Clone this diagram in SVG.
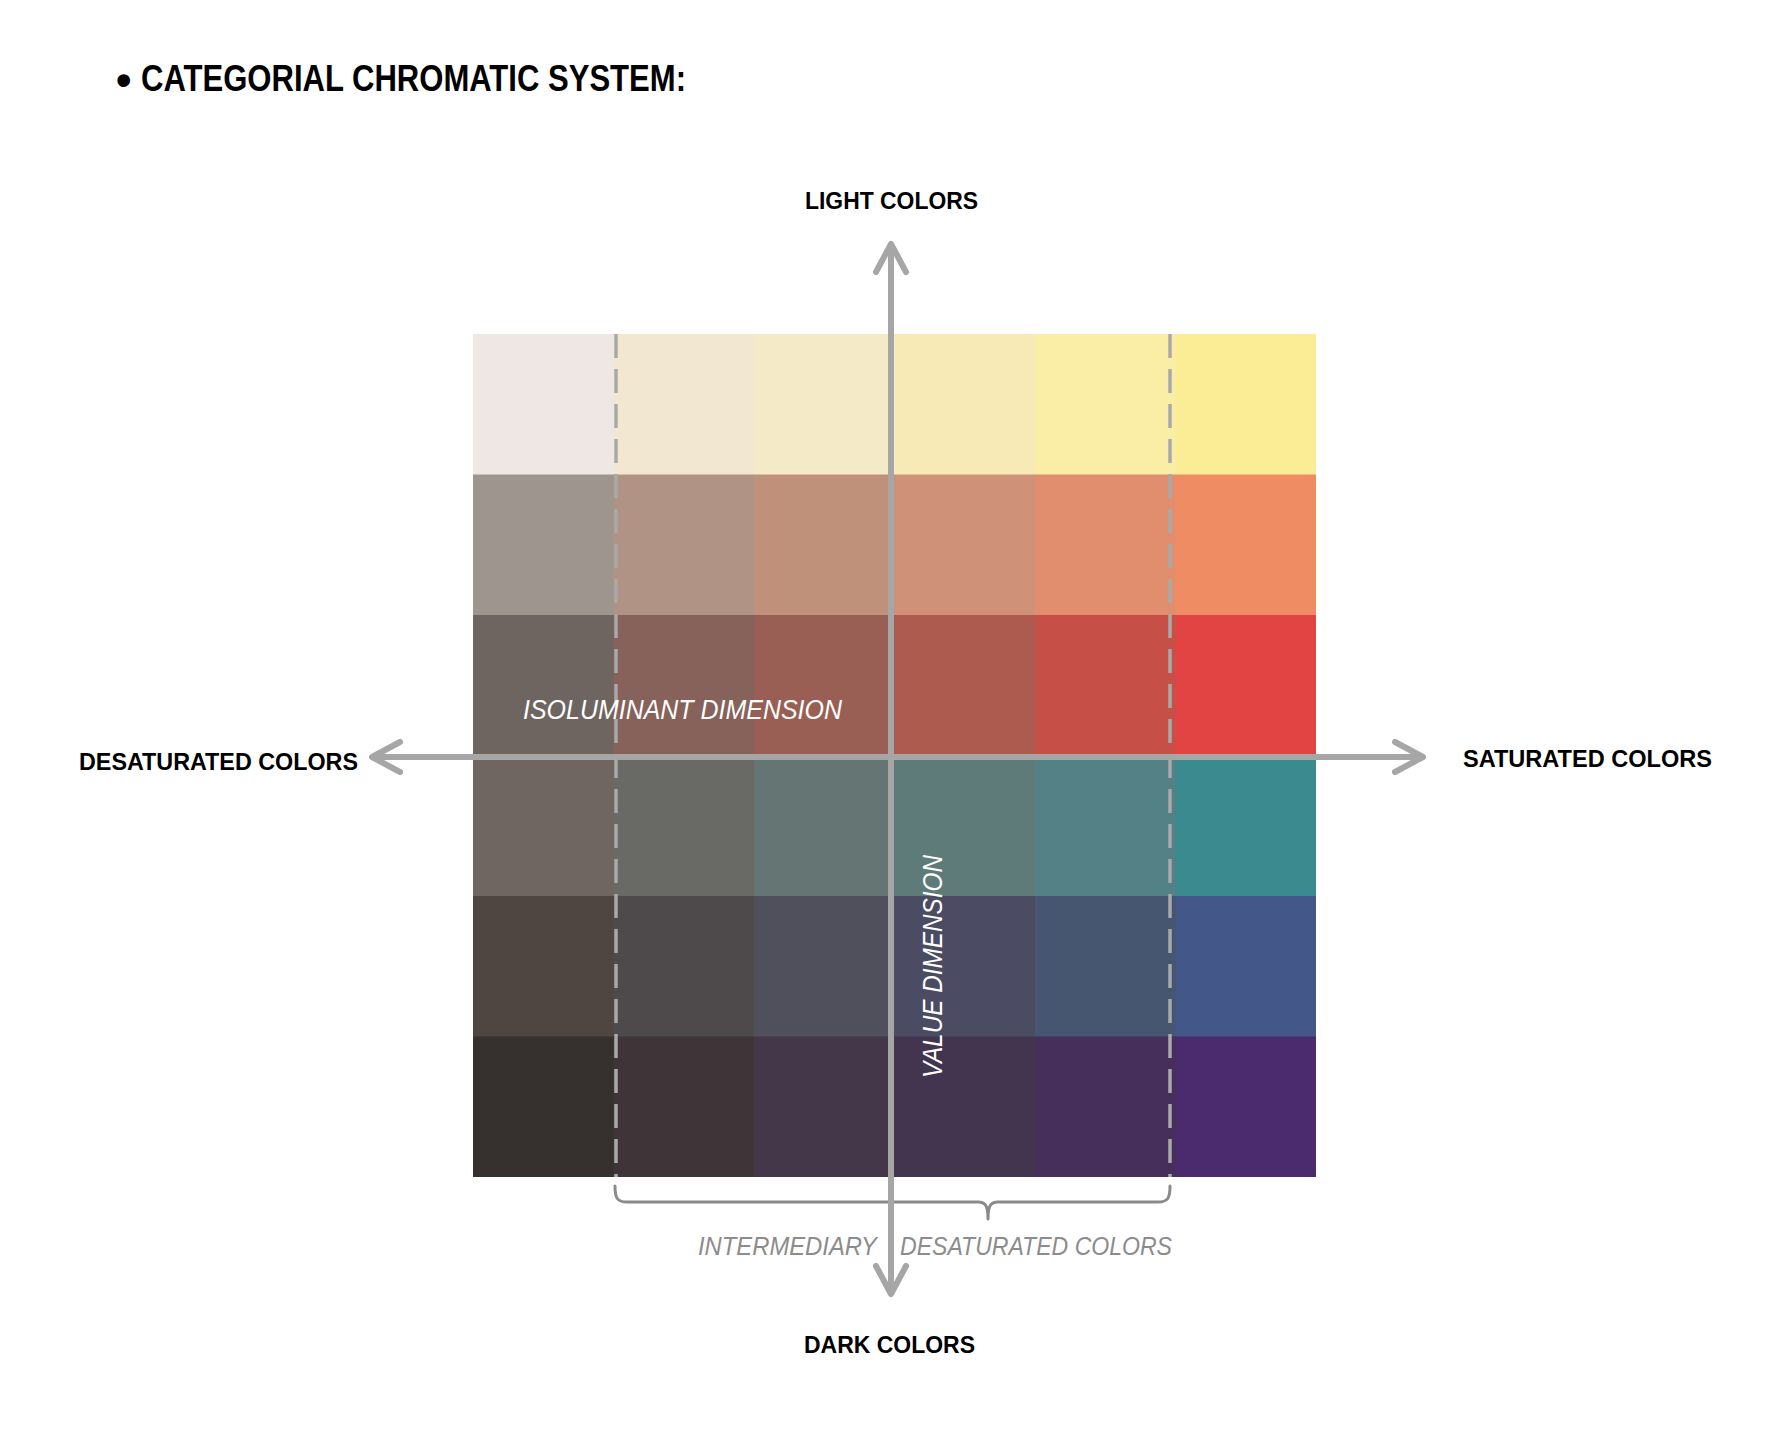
<svg xmlns="http://www.w3.org/2000/svg" width="1788" height="1434" viewBox="0 0 1788 1434">
<defs>
<style>
.bold{font-family:"Liberation Sans",Arial,sans-serif;font-weight:bold;fill:#000;}
.lbl{font-size:24px;}
.ital{font-family:"Liberation Sans",Arial,sans-serif;font-style:italic;font-weight:normal;}
.white{fill:#ffffff;font-size:27px;}
.grey{fill:#8c8c8c;font-size:26.5px;}
.axis{stroke:#a6a6a6;stroke-width:6;fill:none;}
.dash{stroke:#a9a9a9;stroke-width:3.5;stroke-dasharray:24 11;fill:none;}
.brace{stroke:#8a8a8a;stroke-width:3;fill:none;stroke-linecap:round;stroke-linejoin:round;}
</style>
<marker id="chev" markerUnits="userSpaceOnUse" markerWidth="40" markerHeight="40" refX="30" refY="20" orient="auto-start-reverse" overflow="visible">
<path d="M2,5 L30,20 L2,35" fill="none" stroke="#a6a6a6" stroke-width="6" stroke-linecap="round" stroke-linejoin="round"/>
</marker>
</defs>
<rect width="1788" height="1434" fill="#ffffff"/>

<g id="title">
<text class="bold" x="116" y="91" font-size="36"><tspan font-size="44" dy="4">•</tspan><tspan dy="-4" x="141" textLength="545" lengthAdjust="spacingAndGlyphs">CATEGORIAL CHROMATIC SYSTEM:</tspan></text>
</g>

<g id="grid">
<g id="row1">
<rect x="473" y="334" width="141" height="141" fill="#efe7e4"/>
<rect x="613.5" y="334" width="141" height="141" fill="#f2e8d2"/>
<rect x="754" y="334" width="141" height="141" fill="#f5eac8"/>
<rect x="894.5" y="334" width="141" height="141" fill="#f7eab6"/>
<rect x="1035" y="334" width="141" height="141" fill="#faeea6"/>
<rect x="1175.5" y="334" width="140.5" height="141" fill="#fbec96"/>
</g>
<g id="row2">
<rect x="473" y="474.5" width="141" height="141" fill="#9f958f"/>
<rect x="613.5" y="474.5" width="141" height="141" fill="#b09384"/>
<rect x="754" y="474.5" width="141" height="141" fill="#c0917a"/>
<rect x="894.5" y="474.5" width="141" height="141" fill="#cf9177"/>
<rect x="1035" y="474.5" width="141" height="141" fill="#e08e6d"/>
<rect x="1175.5" y="474.5" width="140.5" height="141" fill="#f08c63"/>
</g>
<g id="row3">
<rect x="473" y="615" width="141" height="141" fill="#6e6561"/>
<rect x="613.5" y="615" width="141" height="141" fill="#86625a"/>
<rect x="754" y="615" width="141" height="141" fill="#9a5f54"/>
<rect x="894.5" y="615" width="141" height="141" fill="#ad5a4f"/>
<rect x="1035" y="615" width="141" height="141" fill="#c65048"/>
<rect x="1175.5" y="615" width="140.5" height="141" fill="#e24443"/>
</g>
<g id="row4">
<rect x="473" y="755.5" width="141" height="141" fill="#6f6661"/>
<rect x="613.5" y="755.5" width="141" height="141" fill="#696a66"/>
<rect x="754" y="755.5" width="141" height="141" fill="#657574"/>
<rect x="894.5" y="755.5" width="141" height="141" fill="#5e7b79"/>
<rect x="1035" y="755.5" width="141" height="141" fill="#538186"/>
<rect x="1175.5" y="755.5" width="140.5" height="141" fill="#3b8a8f"/>
</g>
<g id="row5">
<rect x="473" y="896" width="141" height="141" fill="#4f4541"/>
<rect x="613.5" y="896" width="141" height="141" fill="#4e4a4c"/>
<rect x="754" y="896" width="141" height="141" fill="#50505c"/>
<rect x="894.5" y="896" width="141" height="141" fill="#4b4c64"/>
<rect x="1035" y="896" width="141" height="141" fill="#465670"/>
<rect x="1175.5" y="896" width="140.5" height="141" fill="#435789"/>
</g>
<g id="row6">
<rect x="473" y="1036.5" width="141" height="140.5" fill="#36312e"/>
<rect x="613.5" y="1036.5" width="141" height="140.5" fill="#3f3539"/>
<rect x="754" y="1036.5" width="141" height="140.5" fill="#44374a"/>
<rect x="894.5" y="1036.5" width="141" height="140.5" fill="#43354f"/>
<rect x="1035" y="1036.5" width="141" height="140.5" fill="#472f5b"/>
<rect x="1175.5" y="1036.5" width="140.5" height="140.5" fill="#4b2b6d"/>
</g>
</g>

<g id="connectors">
<line class="dash" x1="616" y1="334" x2="616" y2="1177"/>
<line class="dash" x1="1170" y1="334" x2="1170" y2="1177"/>
<path class="brace" d="M615,1186 C615,1198 617,1202 627,1202 L978,1202 C985,1202 988,1205 988,1219 C988,1205 991,1202 998,1202 L1158,1202 C1168,1202 1170,1198 1170,1186"/>
<line class="axis" x1="372" y1="757" x2="1423" y2="757" marker-start="url(#chev)" marker-end="url(#chev)"/>
<line class="axis" x1="891" y1="244" x2="891" y2="1294" marker-start="url(#chev)" marker-end="url(#chev)"/>
</g>

<g id="light-colors"><text class="bold lbl" x="805" y="209" textLength="173" lengthAdjust="spacingAndGlyphs">LIGHT COLORS</text></g>
<g id="dark-colors"><text class="bold lbl" x="804" y="1353" textLength="171" lengthAdjust="spacingAndGlyphs">DARK COLORS</text></g>
<g id="desaturated-colors"><text class="bold lbl" x="79" y="770" textLength="279" lengthAdjust="spacingAndGlyphs">DESATURATED COLORS</text></g>
<g id="saturated-colors"><text class="bold lbl" x="1463" y="767" textLength="249" lengthAdjust="spacingAndGlyphs">SATURATED COLORS</text></g>
<g id="isoluminant"><text class="ital white" x="523" y="719" textLength="319" lengthAdjust="spacingAndGlyphs">ISOLUMINANT DIMENSION</text></g>
<g id="value-dimension"><text class="ital white" transform="translate(942,1078) rotate(-90)" x="0" y="0" textLength="223" lengthAdjust="spacingAndGlyphs">VALUE DIMENSION</text></g>
<g id="intermediary"><text class="ital grey" x="698" y="1255" textLength="179" lengthAdjust="spacingAndGlyphs">INTERMEDIARY</text></g>
<g id="intermediary-desaturated"><text class="ital grey" x="900" y="1255" textLength="272" lengthAdjust="spacingAndGlyphs">DESATURATED COLORS</text></g>
</svg>
